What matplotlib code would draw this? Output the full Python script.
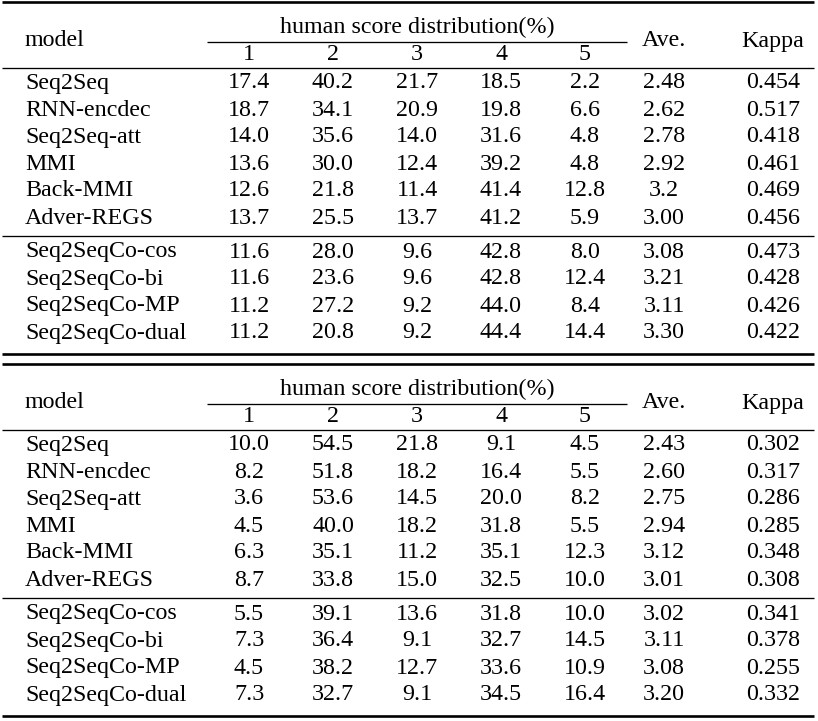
import matplotlib
matplotlib.use('Agg')
import matplotlib.pyplot as plt

plt.rcParams['font.family'] = ['Liberation Serif', 'DejaVu Serif']

# table contents (kept as text so that "3.2" and "3.00" stay as printed)
models = ["Seq2Seq", "RNN-encdec", "Seq2Seq-att", "MMI", "Back-MMI", "Adver-REGS",
          "Seq2SeqCo-cos", "Seq2SeqCo-bi", "Seq2SeqCo-MP", "Seq2SeqCo-dual"]
score_levels = ["1", "2", "3", "4", "5"]

dist_top = [
    ["17.4", "40.2", "21.7", "18.5", "2.2"],
    ["18.7", "34.1", "20.9", "19.8", "6.6"],
    ["14.0", "35.6", "14.0", "31.6", "4.8"],
    ["13.6", "30.0", "12.4", "39.2", "4.8"],
    ["12.6", "21.8", "11.4", "41.4", "12.8"],
    ["13.7", "25.5", "13.7", "41.2", "5.9"],
    ["11.6", "28.0", "9.6", "42.8", "8.0"],
    ["11.6", "23.6", "9.6", "42.8", "12.4"],
    ["11.2", "27.2", "9.2", "44.0", "8.4"],
    ["11.2", "20.8", "9.2", "44.4", "14.4"],
]
ave_top = ["2.48", "2.62", "2.78", "2.92", "3.2", "3.00", "3.08", "3.21", "3.11", "3.30"]
kappa_top = ["0.454", "0.517", "0.418", "0.461", "0.469", "0.456", "0.473", "0.428", "0.426", "0.422"]

dist_bottom = [
    ["10.0", "54.5", "21.8", "9.1", "4.5"],
    ["8.2", "51.8", "18.2", "16.4", "5.5"],
    ["3.6", "53.6", "14.5", "20.0", "8.2"],
    ["4.5", "40.0", "18.2", "31.8", "5.5"],
    ["6.3", "35.1", "11.2", "35.1", "12.3"],
    ["8.7", "33.8", "15.0", "32.5", "10.0"],
    ["5.5", "39.1", "13.6", "31.8", "10.0"],
    ["7.3", "36.4", "9.1", "32.7", "14.5"],
    ["4.5", "38.2", "12.7", "33.6", "10.9"],
    ["7.3", "32.7", "9.1", "34.5", "16.4"],
]
ave_bottom = ["2.43", "2.60", "2.75", "2.94", "3.12", "3.01", "3.02", "3.11", "3.08", "3.20"]
kappa_bottom = ["0.302", "0.317", "0.286", "0.285", "0.348", "0.308", "0.341", "0.378", "0.255", "0.332"]

FS = 17.3
W, H = 818, 721

fig = plt.figure(figsize=(W / 100, H / 100), dpi=100)
ax = fig.add_axes([0, 0, 1, 1])
ax.set_xlim(0, W)
ax.set_ylim(H, 0)
ax.axis('off')

x_left, x_right = 2, 814
x_model = 25
x_cols = [249, 333, 417, 501, 585]
x_ave, x_kappa = 664, 773
heavy, light = 1.9, 0.95


def draw_table(y0, dist, ave, kappa):
    ax.hlines(y0 + 1.5, x_left, x_right, color='black', lw=heavy)
    ax.text(417, y0 + 27, "human score distribution(%)", ha='center', va='center', fontsize=FS)
    ax.hlines(y0 + 41.5, 207, 627, color='black', lw=light)
    ax.text(x_model, y0 + 40, "model", ha='left', va='center', fontsize=FS)
    ax.text(x_ave, y0 + 41, "Ave.", ha='center', va='center', fontsize=FS)
    ax.text(x_kappa, y0 + 41, "Kappa", ha='center', va='center', fontsize=FS)
    for x, s in zip(x_cols, score_levels):
        ax.text(x, y0 + 54, s, ha='center', va='center', fontsize=FS)
    ax.hlines(y0 + 68, x_left, x_right, color='black', lw=light)
    ax.hlines(y0 + 236, x_left, x_right, color='black', lw=light)
    for i, name in enumerate(models):
        y = y0 + 83 + 27 * i + (7 if i >= 6 else 0)
        ax.text(x_model, y, name, ha='left', va='center', fontsize=FS)
        for x, v in zip(x_cols, dist[i]):
            ax.text(x, y, v, ha='center', va='center', fontsize=FS)
        ax.text(x_ave, y, ave[i], ha='center', va='center', fontsize=FS)
        ax.text(x_kappa, y, kappa[i], ha='center', va='center', fontsize=FS)
    ax.hlines(y0 + 354, x_left, x_right, color='black', lw=heavy)


draw_table(0, dist_top, ave_top, kappa_top)
draw_table(362, dist_bottom, ave_bottom, kappa_bottom)

plt.savefig("out.png", dpi=100)
